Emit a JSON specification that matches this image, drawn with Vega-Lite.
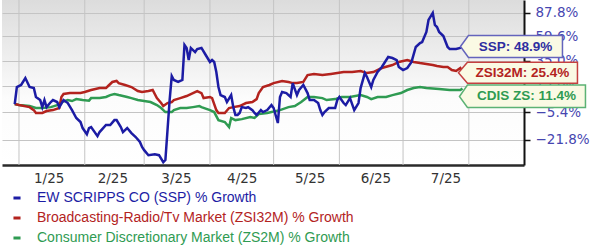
{
  "$schema": "https://vega.github.io/schema/vega-lite/v6.json",
  "width": 522,
  "height": 165,
  "autosize": {"type": "none"},
  "padding": {"left": 2, "top": 0, "right": 75, "bottom": 80},
  "background": "#ffffff",
  "config": {"view": {"stroke": null, "fill": {"gradient": "linear", "x1": 0, "y1": 0, "x2": 0, "y2": 1,
        "stops": [{"offset": 0, "color": "#dcdcdc"}, {"offset": 0.6, "color": "#fcfcfc"}, {"offset": 1, "color": "#ffffff"}]}}},
  "datasets": {
    "months": [{"m": "2025-01-01"}, {"m": "2025-02-01"}, {"m": "2025-03-01"}, {"m": "2025-04-01"}, {"m": "2025-05-01"}, {"m": "2025-06-01"}, {"m": "2025-07-01"}, {"m": "2025-08-01"}],
    "ends": [
      {"s": "SSP", "d": "2025-07-29", "v": 148.9, "label": "SSP: 48.9%"},
      {"s": "ZSI32M", "d": "2025-07-29", "v": 125.4, "label": "ZSI32M: 25.4%"},
      {"s": "CDIS", "d": "2025-07-29", "v": 111.4, "label": "CDIS ZS: 11.4%"}
    ],
    "series": [
      {"s":"CDIS","d":"2024-12-30","v":100},{"s":"CDIS","d":"2025-01-01","v":99.3},{"s":"CDIS","d":"2025-01-06","v":98.6},{"s":"CDIS","d":"2025-01-09","v":97.3},{"s":"CDIS","d":"2025-01-12","v":97.3},{"s":"CDIS","d":"2025-01-16","v":97.9},{"s":"CDIS","d":"2025-01-19","v":99.3},{"s":"CDIS","d":"2025-01-21","v":101.4},{"s":"CDIS","d":"2025-01-24","v":102.8},{"s":"CDIS","d":"2025-01-26","v":102.1},{"s":"CDIS","d":"2025-01-28","v":103.5},{"s":"CDIS","d":"2025-01-31","v":102.8},{"s":"CDIS","d":"2025-02-03","v":102.4},{"s":"CDIS","d":"2025-02-04","v":104.2},{"s":"CDIS","d":"2025-02-08","v":104.2},{"s":"CDIS","d":"2025-02-11","v":105.0},{"s":"CDIS","d":"2025-02-13","v":106.4},{"s":"CDIS","d":"2025-02-15","v":107.2},{"s":"CDIS","d":"2025-02-17","v":106.4},{"s":"CDIS","d":"2025-02-21","v":105.0},{"s":"CDIS","d":"2025-02-23","v":104.2},{"s":"CDIS","d":"2025-02-26","v":102.8},{"s":"CDIS","d":"2025-03-01","v":102.1},{"s":"CDIS","d":"2025-03-04","v":101.4},{"s":"CDIS","d":"2025-03-07","v":99.3},{"s":"CDIS","d":"2025-03-09","v":97.3},{"s":"CDIS","d":"2025-03-11","v":94.6},{"s":"CDIS","d":"2025-03-14","v":94.6},{"s":"CDIS","d":"2025-03-15","v":95.9},{"s":"CDIS","d":"2025-03-18","v":97.3},{"s":"CDIS","d":"2025-03-21","v":97.3},{"s":"CDIS","d":"2025-03-24","v":97.9},{"s":"CDIS","d":"2025-03-27","v":98.6},{"s":"CDIS","d":"2025-03-28","v":97.9},{"s":"CDIS","d":"2025-04-01","v":95.9},{"s":"CDIS","d":"2025-04-03","v":94.6},{"s":"CDIS","d":"2025-04-05","v":89.5},{"s":"CDIS","d":"2025-04-08","v":88.3},{"s":"CDIS","d":"2025-04-10","v":85.3},{"s":"CDIS","d":"2025-04-11","v":90.8},{"s":"CDIS","d":"2025-04-13","v":89.5},{"s":"CDIS","d":"2025-04-16","v":90.1},{"s":"CDIS","d":"2025-04-20","v":91.4},{"s":"CDIS","d":"2025-04-22","v":90.8},{"s":"CDIS","d":"2025-04-24","v":93.3},{"s":"CDIS","d":"2025-04-28","v":94.0},{"s":"CDIS","d":"2025-04-30","v":94.6},{"s":"CDIS","d":"2025-05-04","v":95.9},{"s":"CDIS","d":"2025-05-08","v":97.9},{"s":"CDIS","d":"2025-05-11","v":98.6},{"s":"CDIS","d":"2025-05-14","v":101.4},{"s":"CDIS","d":"2025-05-17","v":105.0},{"s":"CDIS","d":"2025-05-20","v":105.0},{"s":"CDIS","d":"2025-05-24","v":104.2},{"s":"CDIS","d":"2025-05-26","v":102.8},{"s":"CDIS","d":"2025-05-30","v":103.5},{"s":"CDIS","d":"2025-06-02","v":105.0},{"s":"CDIS","d":"2025-06-06","v":105.0},{"s":"CDIS","d":"2025-06-11","v":106.4},{"s":"CDIS","d":"2025-06-14","v":105.0},{"s":"CDIS","d":"2025-06-16","v":103.5},{"s":"CDIS","d":"2025-06-19","v":105.0},{"s":"CDIS","d":"2025-06-23","v":105.0},{"s":"CDIS","d":"2025-06-26","v":106.4},{"s":"CDIS","d":"2025-06-30","v":107.9},{"s":"CDIS","d":"2025-07-03","v":110.2},{"s":"CDIS","d":"2025-07-06","v":111.7},{"s":"CDIS","d":"2025-07-09","v":112.5},{"s":"CDIS","d":"2025-07-12","v":111.7},{"s":"CDIS","d":"2025-07-18","v":110.9},{"s":"CDIS","d":"2025-07-23","v":110.2},{"s":"CDIS","d":"2025-07-28","v":110.2},{"s":"CDIS","d":"2025-07-29","v":111.4},
      {"s":"ZSI32M","d":"2024-12-30","v":100},{"s":"ZSI32M","d":"2025-01-01","v":99.3},{"s":"ZSI32M","d":"2025-01-06","v":97.9},{"s":"ZSI32M","d":"2025-01-08","v":95.9},{"s":"ZSI32M","d":"2025-01-09","v":94.0},{"s":"ZSI32M","d":"2025-01-12","v":94.0},{"s":"ZSI32M","d":"2025-01-14","v":95.3},{"s":"ZSI32M","d":"2025-01-17","v":95.9},{"s":"ZSI32M","d":"2025-01-20","v":97.3},{"s":"ZSI32M","d":"2025-01-21","v":105.0},{"s":"ZSI32M","d":"2025-01-22","v":107.2},{"s":"ZSI32M","d":"2025-01-25","v":107.9},{"s":"ZSI32M","d":"2025-01-30","v":107.9},{"s":"ZSI32M","d":"2025-02-01","v":108.7},{"s":"ZSI32M","d":"2025-02-04","v":110.2},{"s":"ZSI32M","d":"2025-02-08","v":111.7},{"s":"ZSI32M","d":"2025-02-11","v":111.7},{"s":"ZSI32M","d":"2025-02-12","v":113.3},{"s":"ZSI32M","d":"2025-02-14","v":116.5},{"s":"ZSI32M","d":"2025-02-16","v":117.3},{"s":"ZSI32M","d":"2025-02-17","v":115.6},{"s":"ZSI32M","d":"2025-02-20","v":114.1},{"s":"ZSI32M","d":"2025-02-23","v":112.5},{"s":"ZSI32M","d":"2025-02-26","v":109.4},{"s":"ZSI32M","d":"2025-02-28","v":108.7},{"s":"ZSI32M","d":"2025-03-03","v":109.4},{"s":"ZSI32M","d":"2025-03-05","v":110.2},{"s":"ZSI32M","d":"2025-03-07","v":104.2},{"s":"ZSI32M","d":"2025-03-09","v":100.7},{"s":"ZSI32M","d":"2025-03-10","v":98.6},{"s":"ZSI32M","d":"2025-03-12","v":100.7},{"s":"ZSI32M","d":"2025-03-14","v":101.4},{"s":"ZSI32M","d":"2025-03-15","v":102.8},{"s":"ZSI32M","d":"2025-03-18","v":104.2},{"s":"ZSI32M","d":"2025-03-21","v":105.7},{"s":"ZSI32M","d":"2025-03-24","v":107.9},{"s":"ZSI32M","d":"2025-03-26","v":109.4},{"s":"ZSI32M","d":"2025-03-28","v":107.9},{"s":"ZSI32M","d":"2025-03-29","v":104.2},{"s":"ZSI32M","d":"2025-04-01","v":105.0},{"s":"ZSI32M","d":"2025-04-02","v":104.2},{"s":"ZSI32M","d":"2025-04-04","v":95.9},{"s":"ZSI32M","d":"2025-04-05","v":94.0},{"s":"ZSI32M","d":"2025-04-08","v":94.0},{"s":"ZSI32M","d":"2025-04-10","v":97.3},{"s":"ZSI32M","d":"2025-04-12","v":97.9},{"s":"ZSI32M","d":"2025-04-15","v":98.6},{"s":"ZSI32M","d":"2025-04-18","v":100.7},{"s":"ZSI32M","d":"2025-04-21","v":101.4},{"s":"ZSI32M","d":"2025-04-23","v":103.5},{"s":"ZSI32M","d":"2025-04-24","v":107.9},{"s":"ZSI32M","d":"2025-04-26","v":112.5},{"s":"ZSI32M","d":"2025-04-29","v":114.1},{"s":"ZSI32M","d":"2025-05-01","v":115.6},{"s":"ZSI32M","d":"2025-05-05","v":117.3},{"s":"ZSI32M","d":"2025-05-08","v":116.5},{"s":"ZSI32M","d":"2025-05-10","v":115.6},{"s":"ZSI32M","d":"2025-05-12","v":115.6},{"s":"ZSI32M","d":"2025-05-15","v":116.5},{"s":"ZSI32M","d":"2025-05-17","v":122.2},{"s":"ZSI32M","d":"2025-05-20","v":123.1},{"s":"ZSI32M","d":"2025-05-24","v":122.2},{"s":"ZSI32M","d":"2025-05-28","v":123.1},{"s":"ZSI32M","d":"2025-05-31","v":123.9},{"s":"ZSI32M","d":"2025-06-03","v":124.8},{"s":"ZSI32M","d":"2025-06-07","v":124.8},{"s":"ZSI32M","d":"2025-06-11","v":125.7},{"s":"ZSI32M","d":"2025-06-14","v":123.9},{"s":"ZSI32M","d":"2025-06-17","v":124.8},{"s":"ZSI32M","d":"2025-06-21","v":128.3},{"s":"ZSI32M","d":"2025-06-26","v":131.0},{"s":"ZSI32M","d":"2025-06-29","v":133.8},{"s":"ZSI32M","d":"2025-07-03","v":135.6},{"s":"ZSI32M","d":"2025-07-06","v":133.8},{"s":"ZSI32M","d":"2025-07-09","v":132.8},{"s":"ZSI32M","d":"2025-07-12","v":132.0},{"s":"ZSI32M","d":"2025-07-15","v":131.0},{"s":"ZSI32M","d":"2025-07-17","v":130.1},{"s":"ZSI32M","d":"2025-07-20","v":129.2},{"s":"ZSI32M","d":"2025-07-22","v":129.2},{"s":"ZSI32M","d":"2025-07-24","v":126.5},{"s":"ZSI32M","d":"2025-07-26","v":125.7},{"s":"ZSI32M","d":"2025-07-28","v":128.3},{"s":"ZSI32M","d":"2025-07-29","v":125.4},
      {"s":"SSP","d":"2024-12-30","v":100},{"s":"SSP","d":"2024-12-31","v":112.5},{"s":"SSP","d":"2025-01-02","v":114.1},{"s":"SSP","d":"2025-01-04","v":119.7},{"s":"SSP","d":"2025-01-06","v":112.5},{"s":"SSP","d":"2025-01-08","v":111.7},{"s":"SSP","d":"2025-01-09","v":105.0},{"s":"SSP","d":"2025-01-11","v":102.8},{"s":"SSP","d":"2025-01-12","v":97.9},{"s":"SSP","d":"2025-01-13","v":102.8},{"s":"SSP","d":"2025-01-14","v":97.9},{"s":"SSP","d":"2025-01-16","v":101.4},{"s":"SSP","d":"2025-01-17","v":102.8},{"s":"SSP","d":"2025-01-19","v":101.4},{"s":"SSP","d":"2025-01-20","v":97.9},{"s":"SSP","d":"2025-01-22","v":102.8},{"s":"SSP","d":"2025-01-24","v":100.7},{"s":"SSP","d":"2025-01-26","v":95.9},{"s":"SSP","d":"2025-01-28","v":90.8},{"s":"SSP","d":"2025-01-30","v":88.3},{"s":"SSP","d":"2025-01-31","v":84.7},{"s":"SSP","d":"2025-02-02","v":81.2},{"s":"SSP","d":"2025-02-03","v":84.7},{"s":"SSP","d":"2025-02-04","v":85.3},{"s":"SSP","d":"2025-02-07","v":80.1},{"s":"SSP","d":"2025-02-08","v":82.4},{"s":"SSP","d":"2025-02-11","v":86.5},{"s":"SSP","d":"2025-02-13","v":86.5},{"s":"SSP","d":"2025-02-15","v":89.5},{"s":"SSP","d":"2025-02-16","v":89.5},{"s":"SSP","d":"2025-02-18","v":85.3},{"s":"SSP","d":"2025-02-19","v":82.4},{"s":"SSP","d":"2025-02-21","v":84.7},{"s":"SSP","d":"2025-02-23","v":81.8},{"s":"SSP","d":"2025-02-25","v":79.6},{"s":"SSP","d":"2025-02-27","v":76.9},{"s":"SSP","d":"2025-02-28","v":74.3},{"s":"SSP","d":"2025-03-01","v":72.7},{"s":"SSP","d":"2025-03-03","v":70.2},{"s":"SSP","d":"2025-03-06","v":70.7},{"s":"SSP","d":"2025-03-08","v":70.2},{"s":"SSP","d":"2025-03-10","v":66.9},{"s":"SSP","d":"2025-03-11","v":67.9},{"s":"SSP","d":"2025-03-13","v":102.8},{"s":"SSP","d":"2025-03-14","v":121.4},{"s":"SSP","d":"2025-03-15","v":118.1},{"s":"SSP","d":"2025-03-17","v":116.5},{"s":"SSP","d":"2025-03-19","v":118.1},{"s":"SSP","d":"2025-03-20","v":150.5},{"s":"SSP","d":"2025-03-21","v":147.4},{"s":"SSP","d":"2025-03-22","v":135.6},{"s":"SSP","d":"2025-03-23","v":147.4},{"s":"SSP","d":"2025-03-25","v":143.3},{"s":"SSP","d":"2025-03-26","v":146.3},{"s":"SSP","d":"2025-03-28","v":147.4},{"s":"SSP","d":"2025-03-30","v":140.4},{"s":"SSP","d":"2025-04-01","v":133.8},{"s":"SSP","d":"2025-04-02","v":135.6},{"s":"SSP","d":"2025-04-03","v":133.8},{"s":"SSP","d":"2025-04-04","v":124.8},{"s":"SSP","d":"2025-04-05","v":112.5},{"s":"SSP","d":"2025-04-06","v":106.4},{"s":"SSP","d":"2025-04-08","v":105.0},{"s":"SSP","d":"2025-04-09","v":101.4},{"s":"SSP","d":"2025-04-11","v":106.4},{"s":"SSP","d":"2025-04-12","v":97.9},{"s":"SSP","d":"2025-04-13","v":92.7},{"s":"SSP","d":"2025-04-14","v":92.7},{"s":"SSP","d":"2025-04-15","v":94.0},{"s":"SSP","d":"2025-04-16","v":97.9},{"s":"SSP","d":"2025-04-18","v":97.3},{"s":"SSP","d":"2025-04-19","v":97.9},{"s":"SSP","d":"2025-04-21","v":95.9},{"s":"SSP","d":"2025-04-22","v":94.0},{"s":"SSP","d":"2025-04-23","v":92.7},{"s":"SSP","d":"2025-04-25","v":95.9},{"s":"SSP","d":"2025-04-26","v":94.6},{"s":"SSP","d":"2025-04-28","v":95.9},{"s":"SSP","d":"2025-04-30","v":99.3},{"s":"SSP","d":"2025-05-01","v":97.3},{"s":"SSP","d":"2025-05-03","v":87.7},{"s":"SSP","d":"2025-05-04","v":105.0},{"s":"SSP","d":"2025-05-05","v":108.7},{"s":"SSP","d":"2025-05-07","v":107.9},{"s":"SSP","d":"2025-05-09","v":105.0},{"s":"SSP","d":"2025-05-10","v":115.6},{"s":"SSP","d":"2025-05-12","v":106.4},{"s":"SSP","d":"2025-05-13","v":110.2},{"s":"SSP","d":"2025-05-15","v":114.1},{"s":"SSP","d":"2025-05-17","v":107.9},{"s":"SSP","d":"2025-05-18","v":102.8},{"s":"SSP","d":"2025-05-20","v":102.8},{"s":"SSP","d":"2025-05-22","v":100.7},{"s":"SSP","d":"2025-05-23","v":95.9},{"s":"SSP","d":"2025-05-24","v":92.7},{"s":"SSP","d":"2025-05-25","v":94.6},{"s":"SSP","d":"2025-05-27","v":97.3},{"s":"SSP","d":"2025-05-30","v":97.3},{"s":"SSP","d":"2025-05-31","v":102.8},{"s":"SSP","d":"2025-06-01","v":105.0},{"s":"SSP","d":"2025-06-03","v":100.7},{"s":"SSP","d":"2025-06-04","v":99.3},{"s":"SSP","d":"2025-06-06","v":104.2},{"s":"SSP","d":"2025-06-08","v":95.9},{"s":"SSP","d":"2025-06-10","v":100.7},{"s":"SSP","d":"2025-06-11","v":111.7},{"s":"SSP","d":"2025-06-13","v":123.9},{"s":"SSP","d":"2025-06-14","v":120.6},{"s":"SSP","d":"2025-06-16","v":112.5},{"s":"SSP","d":"2025-06-17","v":118.1},{"s":"SSP","d":"2025-06-19","v":124.8},{"s":"SSP","d":"2025-06-21","v":129.2},{"s":"SSP","d":"2025-06-24","v":138.5},{"s":"SSP","d":"2025-06-26","v":137.5},{"s":"SSP","d":"2025-06-28","v":135.6},{"s":"SSP","d":"2025-06-29","v":129.2},{"s":"SSP","d":"2025-07-01","v":126.5},{"s":"SSP","d":"2025-07-03","v":128.3},{"s":"SSP","d":"2025-07-05","v":133.8},{"s":"SSP","d":"2025-07-07","v":148.4},{"s":"SSP","d":"2025-07-09","v":152.5},{"s":"SSP","d":"2025-07-10","v":153.6},{"s":"SSP","d":"2025-07-12","v":164.6},{"s":"SSP","d":"2025-07-13","v":178.9},{"s":"SSP","d":"2025-07-15","v":187.8},{"s":"SSP","d":"2025-07-16","v":172.8},{"s":"SSP","d":"2025-07-17","v":170.4},{"s":"SSP","d":"2025-07-18","v":164.6},{"s":"SSP","d":"2025-07-20","v":160.1},{"s":"SSP","d":"2025-07-22","v":148.4},{"s":"SSP","d":"2025-07-23","v":146.3},{"s":"SSP","d":"2025-07-26","v":146.3},{"s":"SSP","d":"2025-07-28","v":147.4},{"s":"SSP","d":"2025-07-29","v":148.9}
    ]
  },
  "layer": [
    {
      "data": {"name": "months"},
      "mark": {"type": "rule", "stroke": "#c4c4c4", "strokeWidth": 1, "opacity": 1},
      "encoding": {
        "x": {"field": "m", "type": "temporal",
          "scale": {"type": "utc", "domain": [{"year": 2024, "month": 12, "date": 24, "utc": true}, {"year": 2025, "month": 8, "date": 27, "utc": true}], "nice": false},
          "axis": {"orient": "bottom", "title": null, "grid": false, "domain": true, "domainColor": "#2a2a2a", "domainWidth": 2.5, "ticks": false, "tickSize": 0, "labelPadding": 6,
            "format": "%-m/%y", "labelFont": "DejaVu Sans", "labelFontSize": 13.5, "labelColor": "#333333", "labelAlign": "center",
            "values": [{"year": 2025, "month": 1, "date": 15, "utc": true}, {"year": 2025, "month": 2, "date": 14, "utc": true}, {"year": 2025, "month": 3, "date": 16, "utc": true}, {"year": 2025, "month": 4, "date": 16, "utc": true}, {"year": 2025, "month": 5, "date": 18, "utc": true}, {"year": 2025, "month": 6, "date": 18, "utc": true}, {"year": 2025, "month": 7, "date": 21, "utc": true}]}},
        "y": {"datum": 205.4, "type": "quantitative"},
        "y2": {"datum": 65.6}
      }
    },
    {
      "data": {"name": "series"},
      "mark": {"type": "line", "strokeWidth": 2.5, "interpolate": "linear"},
      "encoding": {
        "x": {"field": "d", "type": "temporal"},
        "y": {"field": "v", "type": "quantitative",
          "scale": {"type": "log", "domain": [65.6, 205.4], "nice": false, "zero": false},
          "axis": {"orient": "right", "title": null, "values": [78.2, 94.6, 113.0, 135.0, 159.6, 187.8],
            "labelExpr": "format(datum.value - 100, '.1f') + '%'",
            "labelFont": "DejaVu Sans", "labelFontSize": 13.5, "labelColor": "#4646b0", "labelPadding": 5,
            "grid": true, "gridColor": "#c4c4c4", "gridWidth": 1, "gridOpacity": 1,
            "domain": true, "domainColor": "#111111", "domainWidth": 2,
            "ticks": true, "tickColor": "#111111", "tickWidth": 1.5, "tickSize": 6}},
        "color": {"field": "s", "type": "nominal",
          "scale": {"domain": ["SSP", "ZSI32M", "CDIS"], "range": ["#1c1ca4", "#b3231e", "#2f9b52"]},
          "legend": {"orient": "none", "legendX": 8, "legendY": 191, "title": null, "padding": 0,
            "labelExpr": "datum.value == 'SSP' ? 'EW SCRIPPS CO (SSP) % Growth' : datum.value == 'ZSI32M' ? 'Broadcasting-Radio/Tv Market (ZSI32M) % Growth' : 'Consumer Discretionary Market (ZS2M) % Growth'",
            "labelFont": "Liberation Sans", "labelFontSize": 14, "labelLimit": 400, "labelOffset": 13,
            "rowPadding": 6, "symbolType": "stroke", "symbolSize": 50, "symbolStrokeWidth": 3,
            "encode": {"labels": {"update": {"fill": {"scale": "color", "field": "value"}}}}}}
      }
    },
    {
      "data": {"name": "ends"},
      "transform": [{"filter": "datum.s == 'SSP'"}],
      "mark": {"type": "point", "shape": "M-2,0L6,-11L100,-11L100,11L6,11Z", "size": 4, "filled": true, "fill": "#fafae4", "stroke": "#6464bc", "strokeWidth": 1.5, "opacity": 1},
      "encoding": {
        "x": {"field": "d", "type": "temporal"},
        "y": {"field": "v", "type": "quantitative"}
      }
    },
    {
      "data": {"name": "ends"},
      "transform": [{"filter": "datum.s == 'ZSI32M'"}],
      "mark": {"type": "point", "shape": "M-4,1.5L5,-9L115,-9L115,12L5,12Z", "size": 4, "filled": true, "fill": "#fafae4", "stroke": "#c44040", "strokeWidth": 1.5, "opacity": 1},
      "encoding": {
        "x": {"field": "d", "type": "temporal"},
        "y": {"field": "v", "type": "quantitative"}
      }
    },
    {
      "data": {"name": "ends"},
      "transform": [{"filter": "datum.s == 'CDIS'"}],
      "mark": {"type": "point", "shape": "M-3,8L5,-3.5L123,-3.5L123,19L5,19Z", "size": 4, "filled": true, "fill": "#fafae4", "stroke": "#5cb274", "strokeWidth": 1.5, "opacity": 1},
      "encoding": {
        "x": {"field": "d", "type": "temporal"},
        "y": {"field": "v", "type": "quantitative"}
      }
    },
    {
      "data": {"name": "ends"},
      "transform": [{"filter": "datum.s == 'SSP'"}],
      "mark": {"type": "text", "dx": 53, "dy": 0, "align": "center", "baseline": "middle", "font": "Liberation Sans", "fontSize": 13.5, "fontWeight": "bold", "color": "#2e2ea0"},
      "encoding": {
        "x": {"field": "d", "type": "temporal"},
        "y": {"field": "v", "type": "quantitative"},
        "text": {"field": "label"}
      }
    },
    {
      "data": {"name": "ends"},
      "transform": [{"filter": "datum.s == 'ZSI32M'"}],
      "mark": {"type": "text", "dx": 60, "dy": 1.5, "align": "center", "baseline": "middle", "font": "Liberation Sans", "fontSize": 13.5, "fontWeight": "bold", "color": "#b3231e"},
      "encoding": {
        "x": {"field": "d", "type": "temporal"},
        "y": {"field": "v", "type": "quantitative"},
        "text": {"field": "label"}
      }
    },
    {
      "data": {"name": "ends"},
      "transform": [{"filter": "datum.s == 'CDIS'"}],
      "mark": {"type": "text", "dx": 64, "dy": 8, "align": "center", "baseline": "middle", "font": "Liberation Sans", "fontSize": 13.5, "fontWeight": "bold", "color": "#2f9b52"},
      "encoding": {
        "x": {"field": "d", "type": "temporal"},
        "y": {"field": "v", "type": "quantitative"},
        "text": {"field": "label"}
      }
    }
  ]
}
